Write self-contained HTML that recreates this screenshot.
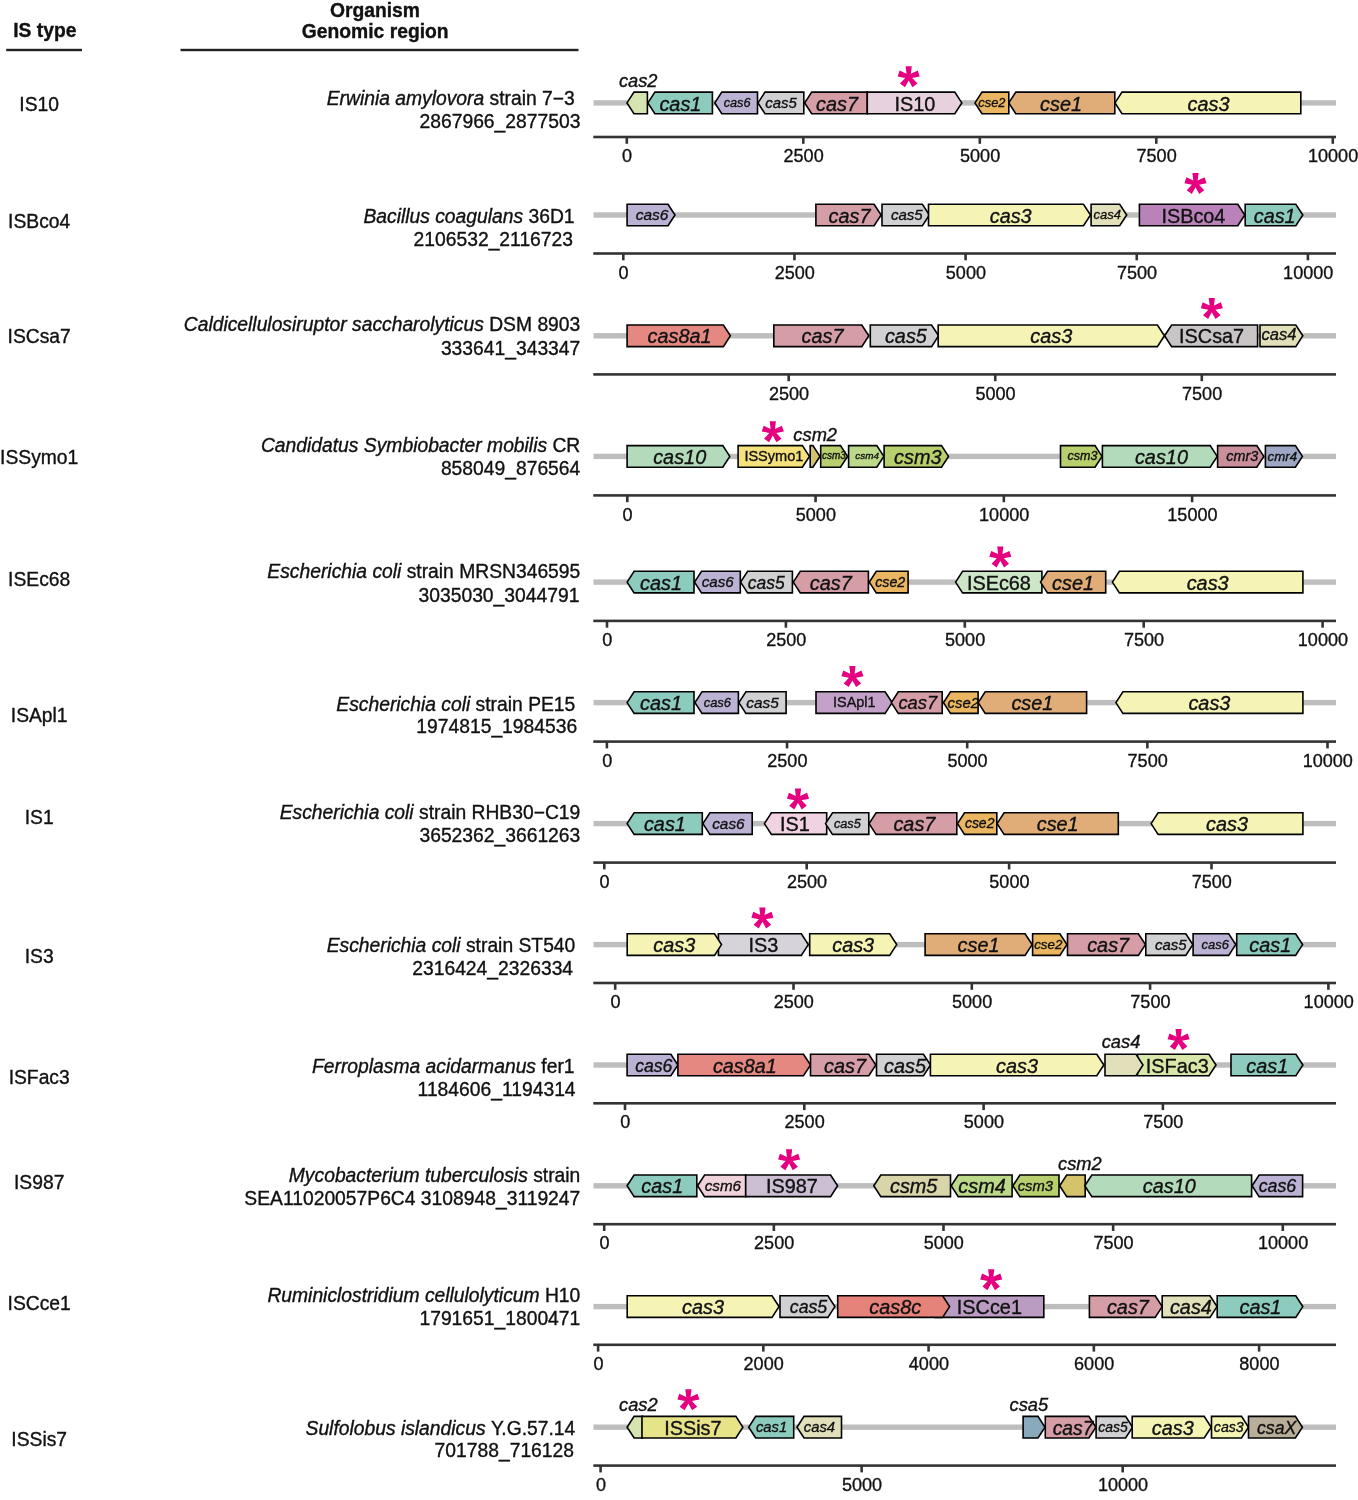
<!DOCTYPE html><html><head><meta charset="utf-8"><title>IS elements in CRISPR-Cas loci</title><style>html,body{margin:0;padding:0;background:#fff;}svg{display:block;will-change:transform;}text{font-family:"Liberation Sans", sans-serif;stroke:#111;stroke-width:0.35px;}</style></head><body>
<svg width="1358" height="1500" viewBox="0 0 1358 1500">
<rect width="1358" height="1500" fill="#fff"/>
<text x="13.2" y="36.8" font-weight="bold" font-size="19.3" fill="#111">IS type</text>
<text x="375" y="17" text-anchor="middle" font-weight="bold" font-size="19.3" fill="#111">Organism</text>
<text x="375.2" y="37.5" text-anchor="middle" font-weight="bold" font-size="19.3" fill="#111">Genomic region</text>
<rect x="6.2" y="48.8" width="75.8" height="2.4" fill="#222"/>
<rect x="180.5" y="48.8" width="398" height="2.4" fill="#222"/>
<g>
<text x="39.2" y="110.7" text-anchor="middle" font-size="19.3" fill="#111">IS10</text>
<text x="574.8" y="105.3" text-anchor="end" font-size="19.3" fill="#111"><tspan font-style="italic">Erwinia amylovora</tspan>&#160;strain 7−3</text>
<text x="580.4" y="127.9" text-anchor="end" font-size="19.3" fill="#111">2867966_2877503</text>
<rect x="593.5" y="100.2" width="742.5" height="5.4" fill="#bebebe"/>
<rect x="593.3" y="135.7" width="742.7" height="2.6" fill="#333"/>
<rect x="625.5" y="137" width="2.6" height="6.8" fill="#333"/>
<text transform="translate(627.1 162.1) scale(0.94 1)" text-anchor="middle" font-size="19.2" fill="#111">0</text>
<rect x="802" y="137" width="2.6" height="6.8" fill="#333"/>
<text transform="translate(803.6 162.1) scale(0.94 1)" text-anchor="middle" font-size="19.2" fill="#111">2500</text>
<rect x="978.5" y="137" width="2.6" height="6.8" fill="#333"/>
<text transform="translate(980.1 162.1) scale(0.94 1)" text-anchor="middle" font-size="19.2" fill="#111">5000</text>
<rect x="1155" y="137" width="2.6" height="6.8" fill="#333"/>
<text transform="translate(1156.6 162.1) scale(0.94 1)" text-anchor="middle" font-size="19.2" fill="#111">7500</text>
<rect x="1331.5" y="137" width="2.6" height="6.8" fill="#333"/>
<text transform="translate(1333.1 162.1) scale(0.94 1)" text-anchor="middle" font-size="19.2" fill="#111">10000</text>
<path d="M627 102.9 L634 92.1 L647.4 92.1 L647.4 113.7 L634 113.7Z" fill="#d6e5b0" stroke="#000" stroke-width="1.6" stroke-linejoin="miter"/>
<path d="M647.9 102.9 L654.9 92.1 L712.4 92.1 L712.4 113.7 L654.9 113.7Z" fill="#8dcbbf" stroke="#000" stroke-width="1.6" stroke-linejoin="miter"/>
<path d="M714.8 102.9 L721.8 92.1 L757.5 92.1 L757.5 113.7 L721.8 113.7Z" fill="#bcb2d4" stroke="#000" stroke-width="1.6" stroke-linejoin="miter"/>
<path d="M758 102.9 L765 92.1 L803.8 92.1 L803.8 113.7 L765 113.7Z" fill="#d1d0d3" stroke="#000" stroke-width="1.6" stroke-linejoin="miter"/>
<path d="M804.7 102.9 L811.7 92.1 L867.3 92.1 L867.3 113.7 L811.7 113.7Z" fill="#d59ea7" stroke="#000" stroke-width="1.6" stroke-linejoin="miter"/>
<path d="M867.3 92.1 L954.8 92.1 L961.8 102.9 L954.8 113.7 L867.3 113.7Z" fill="#e8d1de" stroke="#000" stroke-width="1.6" stroke-linejoin="miter"/>
<path d="M975 102.9 L982 92.1 L1008.8 92.1 L1008.8 113.7 L982 113.7Z" fill="#ebb662" stroke="#000" stroke-width="1.6" stroke-linejoin="miter"/>
<path d="M1008.8 102.9 L1015.8 92.1 L1114.8 92.1 L1114.8 113.7 L1015.8 113.7Z" fill="#e0ad78" stroke="#000" stroke-width="1.6" stroke-linejoin="miter"/>
<path d="M1115 102.9 L1122 92.1 L1300.8 92.1 L1300.8 113.7 L1122 113.7Z" fill="#f6f4b4" stroke="#000" stroke-width="1.6" stroke-linejoin="miter"/>
<text x="680.4" y="110.58" text-anchor="middle" font-size="19.88" font-style="italic" fill="#111">cas1</text>
<text x="737.05" y="106.81" text-anchor="middle" font-size="12.71" font-style="italic" fill="#111">cas6</text>
<text x="780.95" y="107.98" text-anchor="middle" font-size="14.94" font-style="italic" fill="#111">cas5</text>
<text x="837" y="110.58" text-anchor="middle" font-size="19.88" font-style="italic" fill="#111">cas7</text>
<text x="914.85" y="110.58" text-anchor="middle" font-size="19.88" fill="#111">IS10</text>
<text x="991.85" y="106.86" text-anchor="middle" font-size="12.8" font-style="italic" fill="#111">cse2</text>
<text x="1061.1" y="110.58" text-anchor="middle" font-size="19.88" font-style="italic" fill="#111">cse1</text>
<text x="1208.55" y="110.58" text-anchor="middle" font-size="19.88" font-style="italic" fill="#111">cas3</text>
<text x="638.2" y="86.7" text-anchor="middle" font-size="18.3" font-style="italic" fill="#111">cas2</text>
<path d="M905.6 66.2 L911.8 66.2 L910.87 73.81 L917.82 70.58 L919.74 76.47 L912.22 77.94 L917.44 83.55 L912.42 87.2 L908.7 80.5 L904.98 87.2 L899.96 83.55 L905.18 77.94 L897.66 76.47 L899.58 70.58 L906.53 73.81Z" fill="#e4007f"/>
</g>
<g>
<text x="39.2" y="228" text-anchor="middle" font-size="19.3" fill="#111">ISBco4</text>
<text x="574.6" y="222.7" text-anchor="end" font-size="19.3" fill="#111"><tspan font-style="italic">Bacillus coagulans</tspan>&#160;36D1</text>
<text x="573" y="245.5" text-anchor="end" font-size="19.3" fill="#111">2106532_2116723</text>
<rect x="593.5" y="212.3" width="742.5" height="5.4" fill="#bebebe"/>
<rect x="593.3" y="252.2" width="742.7" height="2.6" fill="#333"/>
<rect x="622" y="253.5" width="2.6" height="6.8" fill="#333"/>
<text transform="translate(623.6 278.6) scale(0.94 1)" text-anchor="middle" font-size="19.2" fill="#111">0</text>
<rect x="793.15" y="253.5" width="2.6" height="6.8" fill="#333"/>
<text transform="translate(794.75 278.6) scale(0.94 1)" text-anchor="middle" font-size="19.2" fill="#111">2500</text>
<rect x="964.3" y="253.5" width="2.6" height="6.8" fill="#333"/>
<text transform="translate(965.9 278.6) scale(0.94 1)" text-anchor="middle" font-size="19.2" fill="#111">5000</text>
<rect x="1135.45" y="253.5" width="2.6" height="6.8" fill="#333"/>
<text transform="translate(1137.05 278.6) scale(0.94 1)" text-anchor="middle" font-size="19.2" fill="#111">7500</text>
<rect x="1306.6" y="253.5" width="2.6" height="6.8" fill="#333"/>
<text transform="translate(1308.2 278.6) scale(0.94 1)" text-anchor="middle" font-size="19.2" fill="#111">10000</text>
<path d="M627.1 204.2 L668 204.2 L675 215 L668 225.8 L627.1 225.8Z" fill="#bcb2d4" stroke="#000" stroke-width="1.6" stroke-linejoin="miter"/>
<path d="M815.9 204.2 L874.1 204.2 L881.1 215 L874.1 225.8 L815.9 225.8Z" fill="#d59ea7" stroke="#000" stroke-width="1.6" stroke-linejoin="miter"/>
<path d="M882 204.2 L922.4 204.2 L929.4 215 L922.4 225.8 L882 225.8Z" fill="#d1d0d3" stroke="#000" stroke-width="1.6" stroke-linejoin="miter"/>
<path d="M928.5 204.2 L1083.5 204.2 L1090.5 215 L1083.5 225.8 L928.5 225.8Z" fill="#f6f4b4" stroke="#000" stroke-width="1.6" stroke-linejoin="miter"/>
<path d="M1091.1 204.2 L1119.7 204.2 L1126.7 215 L1119.7 225.8 L1091.1 225.8Z" fill="#e2e0bb" stroke="#000" stroke-width="1.6" stroke-linejoin="miter"/>
<path d="M1139.4 204.2 L1237.8 204.2 L1244.8 215 L1237.8 225.8 L1139.4 225.8Z" fill="#b983b9" stroke="#000" stroke-width="1.6" stroke-linejoin="miter"/>
<path d="M1245.2 204.2 L1295.8 204.2 L1302.8 215 L1295.8 225.8 L1245.2 225.8Z" fill="#8dcbbf" stroke="#000" stroke-width="1.6" stroke-linejoin="miter"/>
<text x="652.05" y="220.38" text-anchor="middle" font-size="15.52" font-style="italic" fill="#111">cas6</text>
<text x="849.55" y="222.68" text-anchor="middle" font-size="19.88" font-style="italic" fill="#111">cas7</text>
<text x="906.8" y="220.13" text-anchor="middle" font-size="15.04" font-style="italic" fill="#111">cas5</text>
<text x="1010.7" y="222.68" text-anchor="middle" font-size="19.88" font-style="italic" fill="#111">cas3</text>
<text x="1107.35" y="219.06" text-anchor="middle" font-size="13" font-style="italic" fill="#111">cas4</text>
<text x="1193.4" y="222.68" text-anchor="middle" font-size="19.88" fill="#111">ISBco4</text>
<text x="1274.7" y="222.68" text-anchor="middle" font-size="19.88" font-style="italic" fill="#111">cas1</text>
<path d="M1192.4 172.9 L1198.6 172.9 L1197.67 180.51 L1204.62 177.28 L1206.54 183.17 L1199.02 184.64 L1204.24 190.25 L1199.22 193.9 L1195.5 187.2 L1191.78 193.9 L1186.76 190.25 L1191.98 184.64 L1184.46 183.17 L1186.38 177.28 L1193.33 180.51Z" fill="#e4007f"/>
</g>
<g>
<text x="39.2" y="343" text-anchor="middle" font-size="19.3" fill="#111">ISCsa7</text>
<text x="580.3" y="331.4" text-anchor="end" font-size="19.3" fill="#111"><tspan font-style="italic">Caldicellulosiruptor saccharolyticus</tspan>&#160;DSM 8903</text>
<text x="580.3" y="355.1" text-anchor="end" font-size="19.3" fill="#111">333641_343347</text>
<rect x="593.5" y="333.1" width="742.5" height="5.4" fill="#bebebe"/>
<rect x="593.3" y="373.1" width="742.7" height="2.6" fill="#333"/>
<rect x="787.4" y="374.4" width="2.6" height="6.8" fill="#333"/>
<text transform="translate(789 399.5) scale(0.94 1)" text-anchor="middle" font-size="19.2" fill="#111">2500</text>
<rect x="993.95" y="374.4" width="2.6" height="6.8" fill="#333"/>
<text transform="translate(995.55 399.5) scale(0.94 1)" text-anchor="middle" font-size="19.2" fill="#111">5000</text>
<rect x="1200.5" y="374.4" width="2.6" height="6.8" fill="#333"/>
<text transform="translate(1202.1 399.5) scale(0.94 1)" text-anchor="middle" font-size="19.2" fill="#111">7500</text>
<path d="M627.1 325 L723.4 325 L730.4 335.8 L723.4 346.6 L627.1 346.6Z" fill="#e68882" stroke="#000" stroke-width="1.6" stroke-linejoin="miter"/>
<path d="M773.8 325 L861.8 325 L868.8 335.8 L861.8 346.6 L773.8 346.6Z" fill="#d59ea7" stroke="#000" stroke-width="1.6" stroke-linejoin="miter"/>
<path d="M870.3 325 L931.6 325 L938.6 335.8 L931.6 346.6 L870.3 346.6Z" fill="#d1d0d3" stroke="#000" stroke-width="1.6" stroke-linejoin="miter"/>
<path d="M938.2 325 L1157.4 325 L1164.4 335.8 L1157.4 346.6 L938.2 346.6Z" fill="#f6f4b4" stroke="#000" stroke-width="1.6" stroke-linejoin="miter"/>
<path d="M1164.6 335.8 L1171.6 325 L1257.6 325 L1257.6 346.6 L1171.6 346.6Z" fill="#c9c4c6" stroke="#000" stroke-width="1.6" stroke-linejoin="miter"/>
<path d="M1260 325 L1295.8 325 L1302.8 335.8 L1295.8 346.6 L1260 346.6Z" fill="#e2e0bb" stroke="#000" stroke-width="1.6" stroke-linejoin="miter"/>
<text x="679.55" y="343.48" text-anchor="middle" font-size="19.88" font-style="italic" fill="#111">cas8a1</text>
<text x="822.6" y="343.48" text-anchor="middle" font-size="19.88" font-style="italic" fill="#111">cas7</text>
<text x="905.9" y="343.48" text-anchor="middle" font-size="19.88" font-style="italic" fill="#111">cas5</text>
<text x="1051.3" y="343.48" text-anchor="middle" font-size="19.88" font-style="italic" fill="#111">cas3</text>
<text x="1211.6" y="343.48" text-anchor="middle" font-size="19.88" fill="#111">ISCsa7</text>
<text x="1279" y="340.1" text-anchor="middle" font-size="16.49" font-style="italic" fill="#111">cas4</text>
<path d="M1208.7 297.9 L1214.9 297.9 L1213.97 305.51 L1220.92 302.28 L1222.84 308.17 L1215.32 309.64 L1220.54 315.25 L1215.52 318.9 L1211.8 312.2 L1208.08 318.9 L1203.06 315.25 L1208.28 309.64 L1200.76 308.17 L1202.68 302.28 L1209.63 305.51Z" fill="#e4007f"/>
</g>
<g>
<text x="39.2" y="463.6" text-anchor="middle" font-size="19.3" fill="#111">ISSymo1</text>
<text x="580.3" y="451.7" text-anchor="end" font-size="19.3" fill="#111"><tspan font-style="italic">Candidatus Symbiobacter mobilis</tspan>&#160;CR</text>
<text x="580.3" y="474.5" text-anchor="end" font-size="19.3" fill="#111">858049_876564</text>
<rect x="593.5" y="453.7" width="742.5" height="5.4" fill="#bebebe"/>
<rect x="593.3" y="494.1" width="742.7" height="2.6" fill="#333"/>
<rect x="626" y="495.4" width="2.6" height="6.8" fill="#333"/>
<text transform="translate(627.6 520.5) scale(0.94 1)" text-anchor="middle" font-size="19.2" fill="#111">0</text>
<rect x="814.27" y="495.4" width="2.6" height="6.8" fill="#333"/>
<text transform="translate(815.87 520.5) scale(0.94 1)" text-anchor="middle" font-size="19.2" fill="#111">5000</text>
<rect x="1002.54" y="495.4" width="2.6" height="6.8" fill="#333"/>
<text transform="translate(1004.14 520.5) scale(0.94 1)" text-anchor="middle" font-size="19.2" fill="#111">10000</text>
<rect x="1190.81" y="495.4" width="2.6" height="6.8" fill="#333"/>
<text transform="translate(1192.41 520.5) scale(0.94 1)" text-anchor="middle" font-size="19.2" fill="#111">15000</text>
<path d="M627.1 445.6 L722.8 445.6 L729.8 456.4 L722.8 467.2 L627.1 467.2Z" fill="#b3dbbb" stroke="#000" stroke-width="1.6" stroke-linejoin="miter"/>
<path d="M738.1 445.6 L802.4 445.6 L809.4 456.4 L802.4 467.2 L738.1 467.2Z" fill="#f6e27c" stroke="#000" stroke-width="1.6" stroke-linejoin="miter"/>
<path d="M810.2 445.6 L812.9 445.6 L819.9 456.4 L812.9 467.2 L810.2 467.2Z" fill="#d5c36b" stroke="#000" stroke-width="1.6" stroke-linejoin="miter"/>
<path d="M820.7 445.6 L840.5 445.6 L847.5 456.4 L840.5 467.2 L820.7 467.2Z" fill="#b7cf6c" stroke="#000" stroke-width="1.6" stroke-linejoin="miter"/>
<path d="M848.6 445.6 L876.8 445.6 L883.8 456.4 L876.8 467.2 L848.6 467.2Z" fill="#bcd98a" stroke="#000" stroke-width="1.6" stroke-linejoin="miter"/>
<path d="M884.1 445.6 L941.5 445.6 L948.5 456.4 L941.5 467.2 L884.1 467.2Z" fill="#b7cf6c" stroke="#000" stroke-width="1.6" stroke-linejoin="miter"/>
<path d="M1060.5 445.6 L1095 445.6 L1102 456.4 L1095 467.2 L1060.5 467.2Z" fill="#b7cf6c" stroke="#000" stroke-width="1.6" stroke-linejoin="miter"/>
<path d="M1102.4 445.6 L1210.2 445.6 L1217.2 456.4 L1210.2 467.2 L1102.4 467.2Z" fill="#b3dbbb" stroke="#000" stroke-width="1.6" stroke-linejoin="miter"/>
<path d="M1217.6 445.6 L1256.8 445.6 L1263.8 456.4 L1256.8 467.2 L1217.6 467.2Z" fill="#c9909b" stroke="#000" stroke-width="1.6" stroke-linejoin="miter"/>
<path d="M1265.4 445.6 L1295.4 445.6 L1302.4 456.4 L1295.4 467.2 L1265.4 467.2Z" fill="#9ea8c4" stroke="#000" stroke-width="1.6" stroke-linejoin="miter"/>
<text x="679.7" y="464.08" text-anchor="middle" font-size="19.88" font-style="italic" fill="#111">cas10</text>
<text x="773.9" y="461.27" text-anchor="middle" font-size="14.55" fill="#111">ISSymo1</text>
<text x="834" y="458.88" text-anchor="middle" font-size="9.99" font-style="italic" fill="#111">csm3</text>
<text x="867.15" y="458.83" text-anchor="middle" font-size="9.89" font-style="italic" fill="#111">csm4</text>
<text x="917.85" y="464.08" text-anchor="middle" font-size="19.88" font-style="italic" fill="#111">csm3</text>
<text x="1082.45" y="460.2" text-anchor="middle" font-size="12.51" font-style="italic" fill="#111">csm3</text>
<text x="1161.45" y="464.08" text-anchor="middle" font-size="19.88" font-style="italic" fill="#111">cas10</text>
<text x="1242.3" y="461.17" text-anchor="middle" font-size="14.36" font-style="italic" fill="#111">cmr3</text>
<text x="1282.35" y="460.61" text-anchor="middle" font-size="13.29" font-style="italic" fill="#111">cmr4</text>
<text x="815.2" y="440.7" text-anchor="middle" font-size="18.3" font-style="italic" fill="#111">csm2</text>
<path d="M769.7 421.3 L775.9 421.3 L774.97 428.91 L781.92 425.68 L783.84 431.57 L776.32 433.04 L781.54 438.65 L776.52 442.3 L772.8 435.6 L769.08 442.3 L764.06 438.65 L769.28 433.04 L761.76 431.57 L763.68 425.68 L770.63 428.91Z" fill="#e4007f"/>
</g>
<g>
<text x="39.2" y="585.6" text-anchor="middle" font-size="19.3" fill="#111">ISEc68</text>
<text x="580.3" y="578" text-anchor="end" font-size="19.3" fill="#111"><tspan font-style="italic">Escherichia coli</tspan>&#160;strain MRSN346595</text>
<text x="579.4" y="601.7" text-anchor="end" font-size="19.3" fill="#111">3035030_3044791</text>
<rect x="593.5" y="579.4" width="742.5" height="5.4" fill="#bebebe"/>
<rect x="593.3" y="619.6" width="742.7" height="2.6" fill="#333"/>
<rect x="605.7" y="620.9" width="2.6" height="6.8" fill="#333"/>
<text transform="translate(607.3 646) scale(0.94 1)" text-anchor="middle" font-size="19.2" fill="#111">0</text>
<rect x="784.6" y="620.9" width="2.6" height="6.8" fill="#333"/>
<text transform="translate(786.2 646) scale(0.94 1)" text-anchor="middle" font-size="19.2" fill="#111">2500</text>
<rect x="963.5" y="620.9" width="2.6" height="6.8" fill="#333"/>
<text transform="translate(965.1 646) scale(0.94 1)" text-anchor="middle" font-size="19.2" fill="#111">5000</text>
<rect x="1142.4" y="620.9" width="2.6" height="6.8" fill="#333"/>
<text transform="translate(1144 646) scale(0.94 1)" text-anchor="middle" font-size="19.2" fill="#111">7500</text>
<rect x="1321.3" y="620.9" width="2.6" height="6.8" fill="#333"/>
<text transform="translate(1322.9 646) scale(0.94 1)" text-anchor="middle" font-size="19.2" fill="#111">10000</text>
<path d="M627.1 582.1 L634.1 571.3 L694 571.3 L694 592.9 L634.1 592.9Z" fill="#8dcbbf" stroke="#000" stroke-width="1.6" stroke-linejoin="miter"/>
<path d="M694.5 582.1 L701.5 571.3 L740.3 571.3 L740.3 592.9 L701.5 592.9Z" fill="#bcb2d4" stroke="#000" stroke-width="1.6" stroke-linejoin="miter"/>
<path d="M740.6 582.1 L747.6 571.3 L792.4 571.3 L792.4 592.9 L747.6 592.9Z" fill="#d1d0d3" stroke="#000" stroke-width="1.6" stroke-linejoin="miter"/>
<path d="M793.3 582.1 L800.3 571.3 L868.4 571.3 L868.4 592.9 L800.3 592.9Z" fill="#d59ea7" stroke="#000" stroke-width="1.6" stroke-linejoin="miter"/>
<path d="M869.3 582.1 L876.3 571.3 L908.1 571.3 L908.1 592.9 L876.3 592.9Z" fill="#ebb662" stroke="#000" stroke-width="1.6" stroke-linejoin="miter"/>
<path d="M955.6 582.1 L962.6 571.3 L1041.9 571.3 L1041.9 592.9 L962.6 592.9Z" fill="#cde6c8" stroke="#000" stroke-width="1.6" stroke-linejoin="miter"/>
<path d="M1040.5 582.1 L1047.5 571.3 L1105.7 571.3 L1105.7 592.9 L1047.5 592.9Z" fill="#e0ad78" stroke="#000" stroke-width="1.6" stroke-linejoin="miter"/>
<path d="M1112.4 582.1 L1119.4 571.3 L1302.9 571.3 L1302.9 592.9 L1119.4 592.9Z" fill="#f6f4b4" stroke="#000" stroke-width="1.6" stroke-linejoin="miter"/>
<text x="661" y="589.78" text-anchor="middle" font-size="19.88" font-style="italic" fill="#111">cas1</text>
<text x="717.65" y="587.28" text-anchor="middle" font-size="15.13" font-style="italic" fill="#111">cas6</text>
<text x="766.25" y="588.5" text-anchor="middle" font-size="17.46" font-style="italic" fill="#111">cas5</text>
<text x="830.85" y="589.78" text-anchor="middle" font-size="19.88" font-style="italic" fill="#111">cas7</text>
<text x="890.25" y="586.82" text-anchor="middle" font-size="14.26" font-style="italic" fill="#111">cse2</text>
<text x="998.9" y="589.78" text-anchor="middle" font-size="19.88" fill="#111">ISEc68</text>
<text x="1073.1" y="589.78" text-anchor="middle" font-size="19.88" font-style="italic" fill="#111">cse1</text>
<text x="1207.65" y="589.78" text-anchor="middle" font-size="19.88" font-style="italic" fill="#111">cas3</text>
<path d="M997.2 546.5 L1003.4 546.5 L1002.47 554.11 L1009.42 550.88 L1011.34 556.77 L1003.82 558.24 L1009.04 563.85 L1004.02 567.5 L1000.3 560.8 L996.58 567.5 L991.56 563.85 L996.78 558.24 L989.26 556.77 L991.18 550.88 L998.13 554.11Z" fill="#e4007f"/>
</g>
<g>
<text x="39.2" y="722" text-anchor="middle" font-size="19.3" fill="#111">ISApl1</text>
<text x="575.3" y="711" text-anchor="end" font-size="19.3" fill="#111"><tspan font-style="italic">Escherichia coli</tspan>&#160;strain PE15</text>
<text x="577.2" y="733.2" text-anchor="end" font-size="19.3" fill="#111">1974815_1984536</text>
<rect x="593.5" y="699.9" width="742.5" height="5.4" fill="#bebebe"/>
<rect x="593.3" y="740.3" width="742.7" height="2.6" fill="#333"/>
<rect x="605.6" y="741.6" width="2.6" height="6.8" fill="#333"/>
<text transform="translate(607.2 766.7) scale(0.94 1)" text-anchor="middle" font-size="19.2" fill="#111">0</text>
<rect x="785.75" y="741.6" width="2.6" height="6.8" fill="#333"/>
<text transform="translate(787.35 766.7) scale(0.94 1)" text-anchor="middle" font-size="19.2" fill="#111">2500</text>
<rect x="965.9" y="741.6" width="2.6" height="6.8" fill="#333"/>
<text transform="translate(967.5 766.7) scale(0.94 1)" text-anchor="middle" font-size="19.2" fill="#111">5000</text>
<rect x="1146.05" y="741.6" width="2.6" height="6.8" fill="#333"/>
<text transform="translate(1147.65 766.7) scale(0.94 1)" text-anchor="middle" font-size="19.2" fill="#111">7500</text>
<rect x="1326.2" y="741.6" width="2.6" height="6.8" fill="#333"/>
<text transform="translate(1327.8 766.7) scale(0.94 1)" text-anchor="middle" font-size="19.2" fill="#111">10000</text>
<path d="M627.1 702.6 L634.1 691.8 L694 691.8 L694 713.4 L634.1 713.4Z" fill="#8dcbbf" stroke="#000" stroke-width="1.6" stroke-linejoin="miter"/>
<path d="M695 702.6 L702 691.8 L738.4 691.8 L738.4 713.4 L702 713.4Z" fill="#bcb2d4" stroke="#000" stroke-width="1.6" stroke-linejoin="miter"/>
<path d="M738.9 702.6 L745.9 691.8 L786.1 691.8 L786.1 713.4 L745.9 713.4Z" fill="#d1d0d3" stroke="#000" stroke-width="1.6" stroke-linejoin="miter"/>
<path d="M816 691.8 L885.1 691.8 L892.1 702.6 L885.1 713.4 L816 713.4Z" fill="#c3a1c9" stroke="#000" stroke-width="1.6" stroke-linejoin="miter"/>
<path d="M891.3 702.6 L898.3 691.8 L942.2 691.8 L942.2 713.4 L898.3 713.4Z" fill="#d59ea7" stroke="#000" stroke-width="1.6" stroke-linejoin="miter"/>
<path d="M943.5 702.6 L950.5 691.8 L978.1 691.8 L978.1 713.4 L950.5 713.4Z" fill="#ebb662" stroke="#000" stroke-width="1.6" stroke-linejoin="miter"/>
<path d="M978.2 702.6 L985.2 691.8 L1086.6 691.8 L1086.6 713.4 L985.2 713.4Z" fill="#e0ad78" stroke="#000" stroke-width="1.6" stroke-linejoin="miter"/>
<path d="M1115.9 702.6 L1122.9 691.8 L1302.9 691.8 L1302.9 713.4 L1122.9 713.4Z" fill="#f6f4b4" stroke="#000" stroke-width="1.6" stroke-linejoin="miter"/>
<text x="661" y="710.28" text-anchor="middle" font-size="19.88" font-style="italic" fill="#111">cas1</text>
<text x="717.35" y="706.61" text-anchor="middle" font-size="12.9" font-style="italic" fill="#111">cas6</text>
<text x="762.45" y="707.93" text-anchor="middle" font-size="15.42" font-style="italic" fill="#111">cas5</text>
<text x="854.3" y="707.42" text-anchor="middle" font-size="14.45" fill="#111">ISApl1</text>
<text x="917.8" y="709.46" text-anchor="middle" font-size="18.33" font-style="italic" fill="#111">cas7</text>
<text x="963.25" y="707.63" text-anchor="middle" font-size="14.84" font-style="italic" fill="#111">cse2</text>
<text x="1032.4" y="710.28" text-anchor="middle" font-size="19.88" font-style="italic" fill="#111">cse1</text>
<text x="1209.4" y="710.28" text-anchor="middle" font-size="19.88" font-style="italic" fill="#111">cas3</text>
<path d="M849.3 666.1 L855.5 666.1 L854.57 673.71 L861.52 670.48 L863.44 676.37 L855.92 677.84 L861.14 683.45 L856.12 687.1 L852.4 680.4 L848.68 687.1 L843.66 683.45 L848.88 677.84 L841.36 676.37 L843.28 670.48 L850.23 673.71Z" fill="#e4007f"/>
</g>
<g>
<text x="39.2" y="823.6" text-anchor="middle" font-size="19.3" fill="#111">IS1</text>
<text x="580.3" y="818.7" text-anchor="end" font-size="19.3" fill="#111"><tspan font-style="italic">Escherichia coli</tspan>&#160;strain RHB30−C19</text>
<text x="580.3" y="842.4" text-anchor="end" font-size="19.3" fill="#111">3652362_3661263</text>
<rect x="593.5" y="820.9" width="742.5" height="5.4" fill="#bebebe"/>
<rect x="593.3" y="861.3" width="742.7" height="2.6" fill="#333"/>
<rect x="603" y="862.6" width="2.6" height="6.8" fill="#333"/>
<text transform="translate(604.6 887.7) scale(0.94 1)" text-anchor="middle" font-size="19.2" fill="#111">0</text>
<rect x="805.4" y="862.6" width="2.6" height="6.8" fill="#333"/>
<text transform="translate(807 887.7) scale(0.94 1)" text-anchor="middle" font-size="19.2" fill="#111">2500</text>
<rect x="1007.8" y="862.6" width="2.6" height="6.8" fill="#333"/>
<text transform="translate(1009.4 887.7) scale(0.94 1)" text-anchor="middle" font-size="19.2" fill="#111">5000</text>
<rect x="1210.2" y="862.6" width="2.6" height="6.8" fill="#333"/>
<text transform="translate(1211.8 887.7) scale(0.94 1)" text-anchor="middle" font-size="19.2" fill="#111">7500</text>
<path d="M627.1 823.6 L634.1 812.8 L702.3 812.8 L702.3 834.4 L634.1 834.4Z" fill="#8dcbbf" stroke="#000" stroke-width="1.6" stroke-linejoin="miter"/>
<path d="M702.9 823.6 L709.9 812.8 L752.2 812.8 L752.2 834.4 L709.9 834.4Z" fill="#bcb2d4" stroke="#000" stroke-width="1.6" stroke-linejoin="miter"/>
<path d="M764.4 823.6 L771.4 812.8 L826.7 812.8 L826.7 834.4 L771.4 834.4Z" fill="#f1d2e2" stroke="#000" stroke-width="1.6" stroke-linejoin="miter"/>
<path d="M825.5 823.6 L832.5 812.8 L868.8 812.8 L868.8 834.4 L832.5 834.4Z" fill="#d1d0d3" stroke="#000" stroke-width="1.6" stroke-linejoin="miter"/>
<path d="M869.1 823.6 L876.1 812.8 L956.8 812.8 L956.8 834.4 L876.1 834.4Z" fill="#d59ea7" stroke="#000" stroke-width="1.6" stroke-linejoin="miter"/>
<path d="M957.5 823.6 L964.5 812.8 L996.8 812.8 L996.8 834.4 L964.5 834.4Z" fill="#ebb662" stroke="#000" stroke-width="1.6" stroke-linejoin="miter"/>
<path d="M997.1 823.6 L1004.1 812.8 L1118.3 812.8 L1118.3 834.4 L1004.1 834.4Z" fill="#e0ad78" stroke="#000" stroke-width="1.6" stroke-linejoin="miter"/>
<path d="M1151.1 823.6 L1158.1 812.8 L1302.9 812.8 L1302.9 834.4 L1158.1 834.4Z" fill="#f6f4b4" stroke="#000" stroke-width="1.6" stroke-linejoin="miter"/>
<text x="664.9" y="831.28" text-anchor="middle" font-size="19.88" font-style="italic" fill="#111">cas1</text>
<text x="728.4" y="828.88" text-anchor="middle" font-size="15.33" font-style="italic" fill="#111">cas6</text>
<text x="794.9" y="831.28" text-anchor="middle" font-size="19.88" fill="#111">IS1</text>
<text x="847.3" y="827.51" text-anchor="middle" font-size="12.71" font-style="italic" fill="#111">cas5</text>
<text x="914.4" y="831.28" text-anchor="middle" font-size="19.88" font-style="italic" fill="#111">cas7</text>
<text x="979.65" y="828.17" text-anchor="middle" font-size="13.97" font-style="italic" fill="#111">cse2</text>
<text x="1057.7" y="831.28" text-anchor="middle" font-size="19.88" font-style="italic" fill="#111">cse1</text>
<text x="1227" y="831.28" text-anchor="middle" font-size="19.88" font-style="italic" fill="#111">cas3</text>
<path d="M794.9 788.4 L801.1 788.4 L800.17 796.01 L807.12 792.78 L809.04 798.67 L801.52 800.14 L806.74 805.75 L801.72 809.4 L798 802.7 L794.28 809.4 L789.26 805.75 L794.48 800.14 L786.96 798.67 L788.88 792.78 L795.83 796.01Z" fill="#e4007f"/>
</g>
<g>
<text x="39.2" y="963" text-anchor="middle" font-size="19.3" fill="#111">IS3</text>
<text x="575.3" y="952.1" text-anchor="end" font-size="19.3" fill="#111"><tspan font-style="italic">Escherichia coli</tspan>&#160;strain ST540</text>
<text x="573.1" y="974.9" text-anchor="end" font-size="19.3" fill="#111">2316424_2326334</text>
<rect x="593.5" y="941.9" width="742.5" height="5.4" fill="#bebebe"/>
<rect x="593.3" y="981.7" width="742.7" height="2.6" fill="#333"/>
<rect x="613.9" y="983" width="2.6" height="6.8" fill="#333"/>
<text transform="translate(615.5 1008.1) scale(0.94 1)" text-anchor="middle" font-size="19.2" fill="#111">0</text>
<rect x="792.2" y="983" width="2.6" height="6.8" fill="#333"/>
<text transform="translate(793.8 1008.1) scale(0.94 1)" text-anchor="middle" font-size="19.2" fill="#111">2500</text>
<rect x="970.5" y="983" width="2.6" height="6.8" fill="#333"/>
<text transform="translate(972.1 1008.1) scale(0.94 1)" text-anchor="middle" font-size="19.2" fill="#111">5000</text>
<rect x="1148.8" y="983" width="2.6" height="6.8" fill="#333"/>
<text transform="translate(1150.4 1008.1) scale(0.94 1)" text-anchor="middle" font-size="19.2" fill="#111">7500</text>
<rect x="1327.1" y="983" width="2.6" height="6.8" fill="#333"/>
<text transform="translate(1328.7 1008.1) scale(0.94 1)" text-anchor="middle" font-size="19.2" fill="#111">10000</text>
<path d="M718.4 933.8 L801.3 933.8 L808.3 944.6 L801.3 955.4 L718.4 955.4Z" fill="#d7d3da" stroke="#000" stroke-width="1.6" stroke-linejoin="miter"/>
<path d="M627.2 933.8 L714.5 933.8 L721.5 944.6 L714.5 955.4 L627.2 955.4Z" fill="#f6f4b4" stroke="#000" stroke-width="1.6" stroke-linejoin="miter"/>
<path d="M809.7 933.8 L889.7 933.8 L896.7 944.6 L889.7 955.4 L809.7 955.4Z" fill="#f6f4b4" stroke="#000" stroke-width="1.6" stroke-linejoin="miter"/>
<path d="M925.1 933.8 L1025.1 933.8 L1032.1 944.6 L1025.1 955.4 L925.1 955.4Z" fill="#e0ad78" stroke="#000" stroke-width="1.6" stroke-linejoin="miter"/>
<path d="M1032.6 933.8 L1059.9 933.8 L1066.9 944.6 L1059.9 955.4 L1032.6 955.4Z" fill="#ebb662" stroke="#000" stroke-width="1.6" stroke-linejoin="miter"/>
<path d="M1067.5 933.8 L1138.4 933.8 L1145.4 944.6 L1138.4 955.4 L1067.5 955.4Z" fill="#d59ea7" stroke="#000" stroke-width="1.6" stroke-linejoin="miter"/>
<path d="M1145.8 933.8 L1185.8 933.8 L1192.8 944.6 L1185.8 955.4 L1145.8 955.4Z" fill="#d1d0d3" stroke="#000" stroke-width="1.6" stroke-linejoin="miter"/>
<path d="M1193.1 933.8 L1228.7 933.8 L1235.7 944.6 L1228.7 955.4 L1193.1 955.4Z" fill="#bcb2d4" stroke="#000" stroke-width="1.6" stroke-linejoin="miter"/>
<path d="M1236.7 933.8 L1295.6 933.8 L1302.6 944.6 L1295.6 955.4 L1236.7 955.4Z" fill="#8dcbbf" stroke="#000" stroke-width="1.6" stroke-linejoin="miter"/>
<text x="763.35" y="952.28" text-anchor="middle" font-size="19.88" fill="#111">IS3</text>
<text x="674.35" y="952.28" text-anchor="middle" font-size="19.88" font-style="italic" fill="#111">cas3</text>
<text x="853.2" y="952.28" text-anchor="middle" font-size="19.88" font-style="italic" fill="#111">cas3</text>
<text x="978.6" y="952.28" text-anchor="middle" font-size="19.88" font-style="italic" fill="#111">cse1</text>
<text x="1048.25" y="948.81" text-anchor="middle" font-size="13.29" font-style="italic" fill="#111">cse2</text>
<text x="1108.15" y="952.28" text-anchor="middle" font-size="19.88" font-style="italic" fill="#111">cas7</text>
<text x="1170.7" y="949.68" text-anchor="middle" font-size="14.94" font-style="italic" fill="#111">cas5</text>
<text x="1215.2" y="948.61" text-anchor="middle" font-size="12.9" font-style="italic" fill="#111">cas6</text>
<text x="1270.35" y="952.28" text-anchor="middle" font-size="19.88" font-style="italic" fill="#111">cas1</text>
<path d="M759.3 907.4 L765.5 907.4 L764.57 915.01 L771.52 911.78 L773.44 917.67 L765.92 919.14 L771.14 924.75 L766.12 928.4 L762.4 921.7 L758.68 928.4 L753.66 924.75 L758.88 919.14 L751.36 917.67 L753.28 911.78 L760.23 915.01Z" fill="#e4007f"/>
</g>
<g>
<text x="39.2" y="1084" text-anchor="middle" font-size="19.3" fill="#111">ISFac3</text>
<text x="574.6" y="1073.1" text-anchor="end" font-size="19.3" fill="#111"><tspan font-style="italic">Ferroplasma acidarmanus</tspan>&#160;fer1</text>
<text x="575.6" y="1095.9" text-anchor="end" font-size="19.3" fill="#111">1184606_1194314</text>
<rect x="593.5" y="1062.3" width="742.5" height="5.4" fill="#bebebe"/>
<rect x="593.3" y="1102" width="742.7" height="2.6" fill="#333"/>
<rect x="623.7" y="1103.3" width="2.6" height="6.8" fill="#333"/>
<text transform="translate(625.3 1128.4) scale(0.94 1)" text-anchor="middle" font-size="19.2" fill="#111">0</text>
<rect x="803" y="1103.3" width="2.6" height="6.8" fill="#333"/>
<text transform="translate(804.6 1128.4) scale(0.94 1)" text-anchor="middle" font-size="19.2" fill="#111">2500</text>
<rect x="982.3" y="1103.3" width="2.6" height="6.8" fill="#333"/>
<text transform="translate(983.9 1128.4) scale(0.94 1)" text-anchor="middle" font-size="19.2" fill="#111">5000</text>
<rect x="1161.6" y="1103.3" width="2.6" height="6.8" fill="#333"/>
<text transform="translate(1163.2 1128.4) scale(0.94 1)" text-anchor="middle" font-size="19.2" fill="#111">7500</text>
<path d="M627.1 1054.2 L670.9 1054.2 L677.9 1065 L670.9 1075.8 L627.1 1075.8Z" fill="#bcb2d4" stroke="#000" stroke-width="1.6" stroke-linejoin="miter"/>
<path d="M677.9 1054.2 L803.5 1054.2 L810.5 1065 L803.5 1075.8 L677.9 1075.8Z" fill="#e68882" stroke="#000" stroke-width="1.6" stroke-linejoin="miter"/>
<path d="M810.5 1054.2 L868.8 1054.2 L875.8 1065 L868.8 1075.8 L810.5 1075.8Z" fill="#d59ea7" stroke="#000" stroke-width="1.6" stroke-linejoin="miter"/>
<path d="M876.5 1054.2 L923.5 1054.2 L930.5 1065 L923.5 1075.8 L876.5 1075.8Z" fill="#d1d0d3" stroke="#000" stroke-width="1.6" stroke-linejoin="miter"/>
<path d="M930.4 1054.2 L1096.8 1054.2 L1103.8 1065 L1096.8 1075.8 L930.4 1075.8Z" fill="#f6f4b4" stroke="#000" stroke-width="1.6" stroke-linejoin="miter"/>
<path d="M1137.5 1054.2 L1209 1054.2 L1216 1065 L1209 1075.8 L1137.5 1075.8Z" fill="#d9e8a8" stroke="#000" stroke-width="1.6" stroke-linejoin="miter"/>
<path d="M1105 1054.2 L1136 1054.2 L1143 1065 L1136 1075.8 L1105 1075.8Z" fill="#e2e0bb" stroke="#000" stroke-width="1.6" stroke-linejoin="miter"/>
<path d="M1231 1054.2 L1295.9 1054.2 L1302.9 1065 L1295.9 1075.8 L1231 1075.8Z" fill="#8dcbbf" stroke="#000" stroke-width="1.6" stroke-linejoin="miter"/>
<text x="653.8" y="1071.51" text-anchor="middle" font-size="17.65" font-style="italic" fill="#111">cas6</text>
<text x="744.9" y="1072.68" text-anchor="middle" font-size="19.88" font-style="italic" fill="#111">cas8a1</text>
<text x="845" y="1072.68" text-anchor="middle" font-size="19.88" font-style="italic" fill="#111">cas7</text>
<text x="905.1" y="1072.68" text-anchor="middle" font-size="19.88" font-style="italic" fill="#111">cas5</text>
<text x="1017.1" y="1072.68" text-anchor="middle" font-size="19.88" font-style="italic" fill="#111">cas3</text>
<text x="1177.3" y="1072.68" text-anchor="middle" font-size="19.88" fill="#111">ISFac3</text>
<text x="1267.3" y="1072.68" text-anchor="middle" font-size="19.88" font-style="italic" fill="#111">cas1</text>
<text x="1121" y="1048.1" text-anchor="middle" font-size="18.3" font-style="italic" fill="#111">cas4</text>
<path d="M1175.5 1029.1 L1181.7 1029.1 L1180.77 1036.71 L1187.72 1033.48 L1189.64 1039.37 L1182.12 1040.84 L1187.34 1046.45 L1182.32 1050.1 L1178.6 1043.4 L1174.88 1050.1 L1169.86 1046.45 L1175.08 1040.84 L1167.56 1039.37 L1169.48 1033.48 L1176.43 1036.71Z" fill="#e4007f"/>
</g>
<g>
<text x="39.2" y="1189" text-anchor="middle" font-size="19.3" fill="#111">IS987</text>
<text x="580.3" y="1181.7" text-anchor="end" font-size="19.3" fill="#111"><tspan font-style="italic">Mycobacterium tuberculosis</tspan>&#160;strain</text>
<text x="580.3" y="1205.1" text-anchor="end" font-size="19.3" fill="#111">SEA11020057P6C4 3108948_3119247</text>
<rect x="593.5" y="1183.1" width="742.5" height="5.4" fill="#bebebe"/>
<rect x="593.3" y="1222.9" width="742.7" height="2.6" fill="#333"/>
<rect x="602.9" y="1224.2" width="2.6" height="6.8" fill="#333"/>
<text transform="translate(604.5 1249.3) scale(0.94 1)" text-anchor="middle" font-size="19.2" fill="#111">0</text>
<rect x="772.55" y="1224.2" width="2.6" height="6.8" fill="#333"/>
<text transform="translate(774.15 1249.3) scale(0.94 1)" text-anchor="middle" font-size="19.2" fill="#111">2500</text>
<rect x="942.2" y="1224.2" width="2.6" height="6.8" fill="#333"/>
<text transform="translate(943.8 1249.3) scale(0.94 1)" text-anchor="middle" font-size="19.2" fill="#111">5000</text>
<rect x="1111.85" y="1224.2" width="2.6" height="6.8" fill="#333"/>
<text transform="translate(1113.45 1249.3) scale(0.94 1)" text-anchor="middle" font-size="19.2" fill="#111">7500</text>
<rect x="1281.5" y="1224.2" width="2.6" height="6.8" fill="#333"/>
<text transform="translate(1283.1 1249.3) scale(0.94 1)" text-anchor="middle" font-size="19.2" fill="#111">10000</text>
<path d="M627.1 1185.8 L634.1 1175 L696.8 1175 L696.8 1196.6 L634.1 1196.6Z" fill="#8dcbbf" stroke="#000" stroke-width="1.6" stroke-linejoin="miter"/>
<path d="M697.6 1185.8 L704.6 1175 L745.7 1175 L745.7 1196.6 L704.6 1196.6Z" fill="#f0d3da" stroke="#000" stroke-width="1.6" stroke-linejoin="miter"/>
<path d="M745.7 1175 L830.6 1175 L837.6 1185.8 L830.6 1196.6 L745.7 1196.6Z" fill="#ccbfd3" stroke="#000" stroke-width="1.6" stroke-linejoin="miter"/>
<path d="M873.8 1185.8 L880.8 1175 L950.5 1175 L950.5 1196.6 L880.8 1196.6Z" fill="#d8d5aa" stroke="#000" stroke-width="1.6" stroke-linejoin="miter"/>
<path d="M951.2 1185.8 L958.2 1175 L1012.1 1175 L1012.1 1196.6 L958.2 1196.6Z" fill="#bcd98a" stroke="#000" stroke-width="1.6" stroke-linejoin="miter"/>
<path d="M1012.9 1185.8 L1019.9 1175 L1059 1175 L1059 1196.6 L1019.9 1196.6Z" fill="#b7cf6c" stroke="#000" stroke-width="1.6" stroke-linejoin="miter"/>
<path d="M1059.7 1185.8 L1066.7 1175 L1085.2 1175 L1085.2 1196.6 L1066.7 1196.6Z" fill="#d5c36b" stroke="#000" stroke-width="1.6" stroke-linejoin="miter"/>
<path d="M1084.8 1185.8 L1091.8 1175 L1251.6 1175 L1251.6 1196.6 L1091.8 1196.6Z" fill="#b3dbbb" stroke="#000" stroke-width="1.6" stroke-linejoin="miter"/>
<path d="M1252.1 1185.8 L1259.1 1175 L1302.6 1175 L1302.6 1196.6 L1259.1 1196.6Z" fill="#bcb2d4" stroke="#000" stroke-width="1.6" stroke-linejoin="miter"/>
<text x="662.35" y="1193.48" text-anchor="middle" font-size="19.88" font-style="italic" fill="#111">cas1</text>
<text x="722.9" y="1191.03" text-anchor="middle" font-size="15.23" font-style="italic" fill="#111">csm6</text>
<text x="791.9" y="1193.48" text-anchor="middle" font-size="19.88" fill="#111">IS987</text>
<text x="913.7" y="1193.48" text-anchor="middle" font-size="19.88" font-style="italic" fill="#111">csm5</text>
<text x="982.05" y="1193.48" text-anchor="middle" font-size="19.88" font-style="italic" fill="#111">csm4</text>
<text x="1035.35" y="1190.83" text-anchor="middle" font-size="14.84" font-style="italic" fill="#111">csm3</text>
<text x="1169.25" y="1193.48" text-anchor="middle" font-size="19.88" font-style="italic" fill="#111">cas10</text>
<text x="1277.4" y="1192.36" text-anchor="middle" font-size="17.75" font-style="italic" fill="#111">cas6</text>
<text x="1079.9" y="1169.6" text-anchor="middle" font-size="18.3" font-style="italic" fill="#111">csm2</text>
<path d="M786 1149.3 L792.2 1149.3 L791.27 1156.91 L798.22 1153.68 L800.14 1159.57 L792.62 1161.04 L797.84 1166.65 L792.82 1170.3 L789.1 1163.6 L785.38 1170.3 L780.36 1166.65 L785.58 1161.04 L778.06 1159.57 L779.98 1153.68 L786.93 1156.91Z" fill="#e4007f"/>
</g>
<g>
<text x="39.2" y="1310.4" text-anchor="middle" font-size="19.3" fill="#111">ISCce1</text>
<text x="580.3" y="1301.7" text-anchor="end" font-size="19.3" fill="#111"><tspan font-style="italic">Ruminiclostridium cellulolyticum</tspan>&#160;H10</text>
<text x="580.3" y="1325.4" text-anchor="end" font-size="19.3" fill="#111">1791651_1800471</text>
<rect x="593.5" y="1303.9" width="742.5" height="5.4" fill="#bebebe"/>
<rect x="593.3" y="1343.5" width="742.7" height="2.6" fill="#333"/>
<rect x="596.8" y="1344.8" width="2.6" height="6.8" fill="#333"/>
<text transform="translate(598.4 1369.9) scale(0.94 1)" text-anchor="middle" font-size="19.2" fill="#111">0</text>
<rect x="762.05" y="1344.8" width="2.6" height="6.8" fill="#333"/>
<text transform="translate(763.65 1369.9) scale(0.94 1)" text-anchor="middle" font-size="19.2" fill="#111">2000</text>
<rect x="927.3" y="1344.8" width="2.6" height="6.8" fill="#333"/>
<text transform="translate(928.9 1369.9) scale(0.94 1)" text-anchor="middle" font-size="19.2" fill="#111">4000</text>
<rect x="1092.55" y="1344.8" width="2.6" height="6.8" fill="#333"/>
<text transform="translate(1094.15 1369.9) scale(0.94 1)" text-anchor="middle" font-size="19.2" fill="#111">6000</text>
<rect x="1257.8" y="1344.8" width="2.6" height="6.8" fill="#333"/>
<text transform="translate(1259.4 1369.9) scale(0.94 1)" text-anchor="middle" font-size="19.2" fill="#111">8000</text>
<path d="M627.2 1295.8 L772 1295.8 L779 1306.6 L772 1317.4 L627.2 1317.4Z" fill="#f6f4b4" stroke="#000" stroke-width="1.6" stroke-linejoin="miter"/>
<path d="M780 1295.8 L827.9 1295.8 L834.9 1306.6 L827.9 1317.4 L780 1317.4Z" fill="#d1d0d3" stroke="#000" stroke-width="1.6" stroke-linejoin="miter"/>
<path d="M935 1295.8 L1043.8 1295.8 L1043.8 1317.4 L935 1317.4Z" fill="#ba9bc2" stroke="#000" stroke-width="1.6" stroke-linejoin="miter"/>
<path d="M837.7 1295.8 L942.6 1295.8 L949.6 1306.6 L942.6 1317.4 L837.7 1317.4Z" fill="#e5837a" stroke="#000" stroke-width="1.6" stroke-linejoin="miter"/>
<path d="M1089.4 1295.8 L1155.2 1295.8 L1162.2 1306.6 L1155.2 1317.4 L1089.4 1317.4Z" fill="#d59ea7" stroke="#000" stroke-width="1.6" stroke-linejoin="miter"/>
<path d="M1162.2 1295.8 L1210 1295.8 L1217 1306.6 L1210 1317.4 L1162.2 1317.4Z" fill="#e2e0bb" stroke="#000" stroke-width="1.6" stroke-linejoin="miter"/>
<path d="M1217.2 1295.8 L1295.8 1295.8 L1302.8 1306.6 L1295.8 1317.4 L1217.2 1317.4Z" fill="#8dcbbf" stroke="#000" stroke-width="1.6" stroke-linejoin="miter"/>
<text x="703.1" y="1314.28" text-anchor="middle" font-size="19.88" font-style="italic" fill="#111">cas3</text>
<text x="808.5" y="1313.16" text-anchor="middle" font-size="17.75" font-style="italic" fill="#111">cas5</text>
<text x="989.4" y="1314.28" text-anchor="middle" font-size="19.88" fill="#111">ISCce1</text>
<text x="895.25" y="1314.28" text-anchor="middle" font-size="19.88" font-style="italic" fill="#111">cas8c</text>
<text x="1127.9" y="1314.28" text-anchor="middle" font-size="19.88" font-style="italic" fill="#111">cas7</text>
<text x="1190.9" y="1314.28" text-anchor="middle" font-size="19.88" font-style="italic" fill="#111">cas4</text>
<text x="1260.45" y="1314.28" text-anchor="middle" font-size="19.88" font-style="italic" fill="#111">cas1</text>
<path d="M988.1 1269.2 L994.3 1269.2 L993.37 1276.81 L1000.32 1273.58 L1002.24 1279.47 L994.72 1280.94 L999.94 1286.55 L994.92 1290.2 L991.2 1283.5 L987.48 1290.2 L982.46 1286.55 L987.68 1280.94 L980.16 1279.47 L982.08 1273.58 L989.03 1276.81Z" fill="#e4007f"/>
</g>
<g>
<text x="39.2" y="1446.4" text-anchor="middle" font-size="19.3" fill="#111">ISSis7</text>
<text x="575.3" y="1434.7" text-anchor="end" font-size="19.3" fill="#111"><tspan font-style="italic">Sulfolobus islandicus</tspan>&#160;Y.G.57.14</text>
<text x="574" y="1456.8" text-anchor="end" font-size="19.3" fill="#111">701788_716128</text>
<rect x="593.5" y="1424.5" width="742.5" height="5.4" fill="#bebebe"/>
<rect x="593.3" y="1464.3" width="742.7" height="2.6" fill="#333"/>
<rect x="599.3" y="1465.6" width="2.6" height="6.8" fill="#333"/>
<text transform="translate(600.9 1490.7) scale(0.94 1)" text-anchor="middle" font-size="19.2" fill="#111">0</text>
<rect x="860.35" y="1465.6" width="2.6" height="6.8" fill="#333"/>
<text transform="translate(861.95 1490.7) scale(0.94 1)" text-anchor="middle" font-size="19.2" fill="#111">5000</text>
<rect x="1121.4" y="1465.6" width="2.6" height="6.8" fill="#333"/>
<text transform="translate(1123 1490.7) scale(0.94 1)" text-anchor="middle" font-size="19.2" fill="#111">10000</text>
<path d="M627.1 1427.2 L634.1 1416.4 L642.5 1416.4 L642.5 1438 L634.1 1438Z" fill="#d6e5b0" stroke="#000" stroke-width="1.6" stroke-linejoin="miter"/>
<path d="M642 1416.4 L735.9 1416.4 L742.9 1427.2 L735.9 1438 L642 1438Z" fill="#e6e388" stroke="#000" stroke-width="1.6" stroke-linejoin="miter"/>
<path d="M748.7 1427.2 L755.7 1416.4 L793.7 1416.4 L793.7 1438 L755.7 1438Z" fill="#8dcbbf" stroke="#000" stroke-width="1.6" stroke-linejoin="miter"/>
<path d="M797 1427.2 L804 1416.4 L841.5 1416.4 L841.5 1438 L804 1438Z" fill="#e2e0bb" stroke="#000" stroke-width="1.6" stroke-linejoin="miter"/>
<path d="M1023.1 1416.4 L1038 1416.4 L1045 1427.2 L1038 1438 L1023.1 1438Z" fill="#89aabd" stroke="#000" stroke-width="1.6" stroke-linejoin="miter"/>
<path d="M1045.3 1416.4 L1088.9 1416.4 L1095.9 1427.2 L1088.9 1438 L1045.3 1438Z" fill="#d59ea7" stroke="#000" stroke-width="1.6" stroke-linejoin="miter"/>
<path d="M1096.1 1416.4 L1125.6 1416.4 L1132.6 1427.2 L1125.6 1438 L1096.1 1438Z" fill="#d1d0d3" stroke="#000" stroke-width="1.6" stroke-linejoin="miter"/>
<path d="M1132.2 1416.4 L1204.2 1416.4 L1211.2 1427.2 L1204.2 1438 L1132.2 1438Z" fill="#f6f4b4" stroke="#000" stroke-width="1.6" stroke-linejoin="miter"/>
<path d="M1211.5 1416.4 L1241.5 1416.4 L1248.5 1427.2 L1241.5 1438 L1211.5 1438Z" fill="#f6f4b4" stroke="#000" stroke-width="1.6" stroke-linejoin="miter"/>
<path d="M1248.5 1416.4 L1295.4 1416.4 L1302.4 1427.2 L1295.4 1438 L1248.5 1438Z" fill="#b9ae9a" stroke="#000" stroke-width="1.6" stroke-linejoin="miter"/>
<text x="692.85" y="1434.88" text-anchor="middle" font-size="19.88" fill="#111">ISSis7</text>
<text x="771.55" y="1432.23" text-anchor="middle" font-size="14.84" font-style="italic" fill="#111">cas1</text>
<text x="819.45" y="1432.23" text-anchor="middle" font-size="14.84" font-style="italic" fill="#111">cas4</text>
<text x="1073" y="1434.57" text-anchor="middle" font-size="19.3" font-style="italic" fill="#111">cas7</text>
<text x="1113" y="1431.77" text-anchor="middle" font-size="13.97" font-style="italic" fill="#111">cas5</text>
<text x="1172.85" y="1434.88" text-anchor="middle" font-size="19.88" font-style="italic" fill="#111">cas3</text>
<text x="1228.75" y="1431.87" text-anchor="middle" font-size="14.16" font-style="italic" fill="#111">cas3</text>
<text x="1276.6" y="1433.71" text-anchor="middle" font-size="17.65" font-style="italic" fill="#111">csaX</text>
<text x="638.3" y="1410.9" text-anchor="middle" font-size="18.3" font-style="italic" fill="#111">cas2</text>
<text x="1028.9" y="1410.9" text-anchor="middle" font-size="18.3" font-style="italic" fill="#111">csa5</text>
<path d="M685.3 1389.3 L691.5 1389.3 L690.57 1396.91 L697.52 1393.68 L699.44 1399.57 L691.92 1401.04 L697.14 1406.65 L692.12 1410.3 L688.4 1403.6 L684.68 1410.3 L679.66 1406.65 L684.88 1401.04 L677.36 1399.57 L679.28 1393.68 L686.23 1396.91Z" fill="#e4007f"/>
</g>
</svg></body></html>
